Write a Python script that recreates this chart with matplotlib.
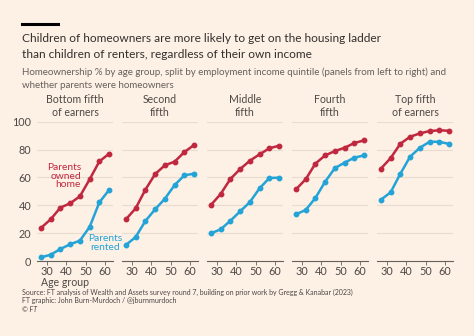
import matplotlib.pyplot as plt

plt.rcParams['font.family'] = ['Lato', 'DejaVu Sans']

ages = [27, 32, 37, 42, 47, 52, 57, 62]
panel_titles = ['Bottom fifth\nof earners', 'Second\nfifth', 'Middle\nfifth', 'Fourth\nfifth', 'Top fifth\nof earners']

owned = [
    [23.7, 29.9, 38.3, 41.4, 46.4, 58.6, 71.5, 77.0],
    [29.9, 37.8, 51.2, 62.4, 68.7, 71.3, 78.2, 83.3],
    [40.2, 48.1, 58.9, 66.0, 72.0, 76.6, 80.9, 82.8],
    [51.4, 58.6, 69.9, 75.8, 78.9, 81.3, 84.7, 86.6],
    [66.3, 73.9, 84.2, 89.2, 91.6, 93.3, 93.8, 93.5],
]
rented = [
    [2.6, 4.5, 8.6, 12.0, 14.6, 24.4, 42.1, 51.0],
    [11.5, 17.2, 28.7, 37.1, 44.7, 54.5, 61.5, 62.7],
    [19.9, 22.7, 28.9, 35.6, 42.3, 52.2, 59.6, 59.8],
    [33.5, 36.6, 45.2, 56.9, 66.7, 70.6, 74.2, 75.8],
    [44.0, 49.3, 62.7, 74.9, 81.3, 85.6, 85.6, 84.0],
]

W, H = 474, 336
BG = '#fdf0e5'
RED = '#c0283f'
BLUE = '#24a3d6'
GREY = '#66605c'
TXT = '#4d4845'
DARK = '#33302e'

fig = plt.figure(figsize=(W / 100, H / 100), dpi=100, facecolor=BG)

def px(x, y):
    return x / W, 1 - y / H

# header bar and titles
fig.add_artist(plt.Line2D([22 / W, 58 / W], [1 - 24 / H] * 2, color='#000000', lw=2.2))
fig.text(*px(22, 38), 'Children of homeowners are more likely to get on the housing ladder',
         fontsize=8.6, color=DARK, va='center')
fig.text(*px(22, 55), 'than children of renters, regardless of their own income',
         fontsize=8.6, color=DARK, va='center')
fig.text(*px(22, 72), 'Homeownership % by age group, split by employment income quintile (panels from left to right) and',
         fontsize=7.0, color=GREY, va='center')
fig.text(*px(22, 85), 'whether parents were homeowners', fontsize=7.0, color=GREY, va='center')

# panels
ax_top, ax_bot = 121.7, 261
for i in range(5):
    left = 37 + 85 * i
    ax = fig.add_axes([left / W, 1 - ax_bot / H, 76 / W, (ax_bot - ax_top) / H])
    ax.set_facecolor('none')
    ax.set_xlim(25, 64)
    ax.set_ylim(0, 100)
    for v in [20, 40, 60, 80, 100]:
        ax.axhline(v, color='#e8dbcf', lw=0.8, zorder=0)
    ax.plot(ages, owned[i], color=RED, lw=1.8, marker='o', ms=3.2, clip_on=False)
    ax.plot(ages, rented[i], color=BLUE, lw=1.8, marker='o', ms=3.2, clip_on=False)
    for s in ['top', 'right', 'left']:
        ax.spines[s].set_visible(False)
    ax.spines['bottom'].set_color(GREY)
    ax.spines['bottom'].set_linewidth(0.8)
    ax.set_xticks([30, 40, 50, 60])
    ax.tick_params(axis='x', colors=GREY, labelsize=7.8, length=3, width=0.6, pad=0.5)
    ax.tick_params(axis='x', labelcolor=TXT)
    ax.set_yticks([0, 20, 40, 60, 80, 100])
    if i == 0:
        ax.tick_params(axis='y', length=0, labelsize=7.8, labelcolor=TXT, pad=4)
    else:
        ax.tick_params(axis='y', length=0, labelleft=False)
    ax.set_title(panel_titles[i], fontsize=7.6, color=TXT, linespacing=1.25, pad=4)
    if i == 0:
        ax.text(47.6, 61, 'Parents\nowned\nhome', color=RED, fontsize=7.4,
                ha='right', va='center', linespacing=0.95)
        ax.text(60, 13, 'Parents\nrented', color=BLUE, fontsize=7.4,
                ha='center', va='center', linespacing=0.95)
        ax.text(26.8, -15.6, 'Age group', color=TXT, fontsize=7.6, va='center')

fig.text(*px(22, 292), 'Source: FT analysis of Wealth and Assets survey round 7, building on prior work by Gregg & Kanabar (2023)',
         fontsize=5.05, color=TXT, va='center')
fig.text(*px(22, 300.5), 'FT graphic: John Burn-Murdoch / @jburnmurdoch', fontsize=5.05, color=TXT, va='center')
fig.text(*px(22, 309), '© FT', fontsize=5.05, color=TXT, va='center', style='italic')

fig.savefig('out.png', dpi=100, facecolor=BG)
